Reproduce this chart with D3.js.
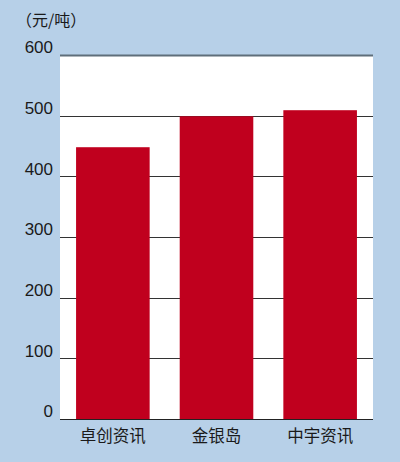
<!DOCTYPE html>
<html><head><meta charset="utf-8">
<script src="https://cdn.jsdelivr.net/npm/d3@7"></script>
<style>html,body{margin:0;padding:0;background:#b7d0e8;}svg{display:block;}</style>
</head><body>
<svg id="c" width="400" height="462"></svg>
<script>
const categories = ["卓创资讯", "金银岛", "中宇资讯"];
const values = [448, 499, 509];
const yTicks = [0, 100, 200, 300, 400, 500, 600];
const unitLabel = "（元/吨）";

const svg = d3.select("#c");
const W = 400, H = 462;
const m = {left: 60, right: 27, top: 55, bottom: 43};
const x0 = m.left, x1 = W - m.right, y0 = H - m.bottom, y1 = m.top;
const cjk = "'Noto Sans CJK SC',sans-serif";
const num = "'Liberation Sans',Arial,sans-serif";

svg.append("rect").attr("width", W).attr("height", H).attr("fill", "#b7d0e8");
svg.append("rect").attr("x", x0).attr("y", y1).attr("width", x1 - x0).attr("height", y0 - y1).attr("fill", "#ffffff");

const y = d3.scaleLinear().domain([0, 600]).range([y0, y1]);
const x = d3.scaleBand().domain(categories).range([x0, x1]).paddingInner(0.29).paddingOuter(0.155);

// gridlines
svg.append("g").selectAll("line").data(yTicks).join("line")
  .attr("x1", x0).attr("x2", x1)
  .attr("y1", d => Math.round(y(d)) + 0.5).attr("y2", d => Math.round(y(d)) + 0.5)
  .attr("stroke", d => d === 600 ? "#5f6e7a" : "#333")
  .attr("stroke-width", d => d === 600 ? 2 : 1.2);

// bars
svg.append("g").selectAll("rect").data(values).join("rect")
  .attr("x", (d, i) => x(categories[i]))
  .attr("width", x.bandwidth())
  .attr("y", d => y(d))
  .attr("height", d => y(0) - y(d))
  .attr("fill", "#c0001e");

// baseline on top
svg.append("line").attr("x1", x0).attr("x2", x1).attr("y1", y0 + 0.5).attr("y2", y0 + 0.5).attr("stroke", "#222").attr("stroke-width", 1.2);

// y axis labels
const yAxis = d3.axisLeft(y).tickValues(yTicks).tickSize(0).tickPadding(7);
const ga = svg.append("g").attr("transform", `translate(${x0},0)`).call(yAxis);
ga.select(".domain").remove();
ga.selectAll("text").attr("font-family", num).attr("font-size", 17).attr("fill", "#1a1a1a")
  .attr("dy", "-0.12em");

// x axis labels
const xAxis = d3.axisBottom(x).tickSize(0).tickPadding(11);
const gx = svg.append("g").attr("transform", `translate(0,${y0})`).call(xAxis);
gx.select(".domain").remove();
gx.selectAll("text").attr("font-family", cjk).attr("font-size", 16.5).attr("fill", "#1a1a1a");

// unit label
svg.append("text").attr("x", 16).attr("y", 26).attr("font-family", cjk).attr("font-size", 16)
  .attr("fill", "#1a1a1a").text(unitLabel);
</script>
</body></html>
